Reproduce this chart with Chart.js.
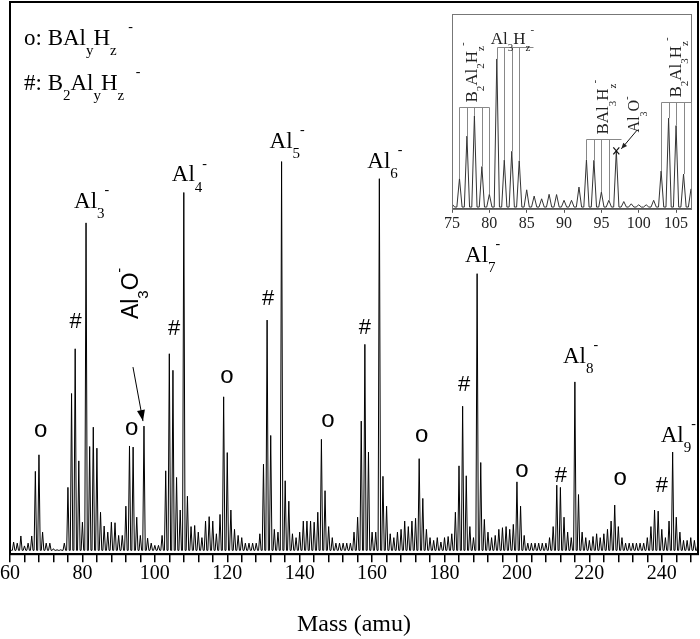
<!DOCTYPE html>
<html><head><meta charset="utf-8">
<script src="https://cdn.jsdelivr.net/npm/chart.js@4.4.1/dist/chart.umd.min.js"></script>
<style>
html,body{margin:0;padding:0;background:#fff;}
#wrap{position:relative;width:700px;height:639px;overflow:hidden;}
#main{position:absolute;left:0;top:0;}
#inset{position:absolute;left:440px;top:4px;}
</style></head><body>
<div id="wrap"><canvas id="main" width="700" height="639"></canvas><canvas id="inset" width="260" height="235"></canvas></div>
<script>
// ---- data ----
const masses = [60,61,62,63,64,65,66,67,68,69,70,71,72,73,74,75,76,77,78,79,80,81,82,83,84,85,86,87,88,89,
90,91,92,93,94,95,96,97,98,99,100,101,102,103,104,105,106,107,108,109,110,111,112,113,114,115,116,117,118,119,
120,121,122,123,124,125,126,127,128,129,130,131,132,133,134,135,136,137,138,139,140,141,142,143,144,145,146,147,148,149,
150,151,152,153,154,155,156,157,158,159,160,161,162,163,164,165,166,167,168,169,170,171,172,173,174,175,176,177,178,179,
180,181,182,183,184,185,186,187,188,189,190,191,192,193,194,195,196,197,198,199,200,201,202,203,204,205,206,207,208,209,
210,211,212,213,214,215,216,217,218,219,220,221,222,223,224,225,226,227,228,229,230,231,232,233,234,235,236,237,238,239,
240,241,242,243,244,245,246,247,248,249,250];
const intensities = [0.8,2.2,2.0,3.3,1.5,2.0,3.3,15.0,18.0,4.0,2.0,2.0,1.0,0.8,0.8,2.0,12.1,29.1,37.2,16.9,5.8,60.0,19.5,23.0,19.2,7.6,5.1,4.0,5.8,5.7,
3.4,3.4,8.7,19.6,19.4,6.7,3.4,23.2,2.9,2.0,1.6,1.6,3.4,15.1,36.3,33.3,13.9,8.0,65.5,10.5,5.0,5.2,4.0,3.0,6.0,6.8,6.0,3.7,7.2,28.5,
18.4,8.0,4.5,3.4,3.0,2.0,2.0,2.0,2.0,3.7,16.3,42.4,21.5,4.5,4.0,71.1,13.3,9.6,3.7,3.0,4.0,6.0,6.0,6.0,5.8,7.6,20.8,11.5,5.0,3.0,
2.0,2.0,2.0,2.0,2.0,4.0,6.7,24.1,38.0,18.5,4.0,4.0,68.0,14.1,8.7,3.7,3.0,4.0,4.5,6.0,5.0,6.0,6.5,17.3,10.1,4.5,3.0,2.5,3.0,2.2,
3.0,3.2,3.7,7.6,16.0,26.8,14.2,5.0,3.0,50.8,16.6,6.3,4.0,3.0,3.4,4.5,4.8,5.0,4.5,5.4,13.1,8.7,3.4,2.0,2.0,2.0,2.0,2.0,2.0,3.0,
5.0,12.5,12.1,6.7,4.0,3.0,31.2,10.8,4.0,3.0,2.5,3.2,3.7,3.0,3.7,4.5,6.0,8.9,5.0,3.0,2.0,2.0,2.0,2.0,2.0,2.0,3.0,5.0,8.0,7.8,
4.5,3.0,6.0,18.5,6.7,4.0,2.5,2.5,3.0,2.5,2.0];
const baseLevel = 0.7;
const majorTicks = [60,80,100,120,140,160,180,200,220,240];
const minorTicks = [64,68,72,76,84,88,92,96,104,108,112,116,124,128,132,136,144,148,152,156,164,168,172,176,184,188,192,196,204,208,212,216,224,228,232,236,244,248];
const insetTicks = [75,80,85,90,95,100,105];

// annotations (mass, height in intensity units)
const peakLabels = [{n:'3',m:81,at:62.7},{n:'4',m:108,at:67.5},{n:'5',m:135,at:73.6},{n:'6',m:162,at:70.0},{n:'7',m:189,at:53.0},{n:'8',m:216,at:34.7},{n:'9',m:243,at:20.3}];
const oMarks = [{m:68.5,at:22.4},{m:93.6,at:22.6},{m:119.9,at:32.1},{m:147.8,at:24.1},{m:173.7,at:21.4},{m:201.4,at:15.1},{m:228.5,at:13.7}];
const hashMarks = [{m:78.1,at:42.4},{m:105.3,at:41.0},{m:131.3,at:46.5},{m:158.0,at:41.3},{m:185.4,at:30.9},{m:212.1,at:14.5},{m:240.0,at:12.7}];

const SERIF = "'Liberation Serif','Times New Roman',serif";
const SANS = "'Liberation Sans',Arial,sans-serif";

function buildSpectrum(){
  const pts=[];
  masses.forEach((m,i)=>{pts.push({x:m-0.35,y:baseLevel},{x:m,y:intensities[i]},{x:m+0.35,y:baseLevel});});
  return pts;
}
const valAt = m => intensities[masses.indexOf(m)];

function richText(ctx,x,y,parts,size,family){
  let cx=x;
  for(const [t,k] of parts){
    let fs=size, dy=0;
    if(k===1){fs=Math.round(size*0.65);dy=size*0.45;}
    else if(k===2){fs=Math.round(size*0.62);dy=-size*0.6;}
    ctx.font=fs+'px '+family;
    ctx.fillText(t,cx,y+dy);
    cx+=ctx.measureText(t).width;
  }
  return cx;
}

const mainDecor = {
  id:'mainDecor',
  afterDraw(chart){
    const ctx=chart.ctx, xs=chart.scales.x, ys=chart.scales.y, a=chart.chartArea;
    ctx.save();
    ctx.strokeStyle='#000'; ctx.lineWidth=2;
    ctx.strokeRect(a.left,a.top,a.right-a.left,a.bottom-a.top);
    ctx.fillStyle='#000'; ctx.textAlign='left'; ctx.textBaseline='alphabetic';
    richText(ctx,a.left+14,a.top+43,[['o: BAl',0],['y',1],['H',0],['z',1],['  ',0],['-',2]],23,SERIF);
    richText(ctx,a.left+14,a.top+88,[['#: B',0],['2',1],['Al',0],['y',1],['H',0],['z',1],['  ',0],['-',2]],23,SERIF);
    peakLabels.forEach(p=>{
      richText(ctx,xs.getPixelForValue(p.m)-12,ys.getPixelForValue(p.at),[['Al',0],[p.n,1],['-',2]],23,SERIF);
    });
    ctx.textAlign='center';
    ctx.font='24px '+SANS;
    oMarks.forEach(o=>ctx.fillText('o',xs.getPixelForValue(o.m),ys.getPixelForValue(o.at)+6));
    ctx.font='22px '+SANS;
    hashMarks.forEach(o=>ctx.fillText('#',xs.getPixelForValue(o.m),ys.getPixelForValue(o.at)+7.5));
    // Al3O- rotated label with arrow to m=97
    const px=xs.getPixelForValue(97), py=ys.getPixelForValue(valAt(97));
    ctx.save();
    ctx.textAlign='left';
    ctx.translate(px-6,py-107);
    ctx.rotate(-Math.PI/2);
    richText(ctx,0,0,[['Al',0],['3',1],['O',0],['-',2]],23,SANS);
    ctx.restore();
    const tx=px-1, ty=py-5, sx=px-11, sy=py-59;
    ctx.strokeStyle='#000'; ctx.lineWidth=1;
    ctx.beginPath(); ctx.moveTo(sx,sy); ctx.lineTo(tx,ty); ctx.stroke();
    const ang=Math.atan2(ty-sy,tx-sx), L=11, W=4;
    ctx.beginPath();
    ctx.moveTo(tx,ty);
    ctx.lineTo(tx-L*Math.cos(ang)+W*Math.sin(ang), ty-L*Math.sin(ang)-W*Math.cos(ang));
    ctx.lineTo(tx-L*Math.cos(ang)-W*Math.sin(ang), ty-L*Math.sin(ang)+W*Math.cos(ang));
    ctx.closePath(); ctx.fill();
    ctx.restore();
  }
};

const insetGroups = [
  {masses:[76,77,78,79,80],level:40.6,end:80,rot:true,lx:78.3,label:[['B',0],['2',1],['Al',0],['2',1],['H',0],['z',1],['-',2]]},
  {masses:[81,82,83,84],level:64.9,end:85.8,rot:false,lx:80.2,label:[['Al',0],['3',1],['H',0],['z',1],['-',2]]},
  {masses:[93,94,95,96],level:27.9,end:97.6,rot:true,lx:95.9,label:[['B',0],['Al',0],['3',1],['H',0],['z',1],['-',2]]},
  {masses:[103,104,105,106,107],level:42.6,end:107,rot:true,lx:105.6,label:[['B',0],['2',1],['Al',0],['3',1],['H',0],['z',1],['-',2]]}
];

const insetDecor = {
  id:'insetDecor',
  afterDraw(chart){
    const ctx=chart.ctx, xs=chart.scales.x, ys=chart.scales.y, a=chart.chartArea;
    const X=m=>Math.round(xs.getPixelForValue(m))+0.5, Y=v=>Math.round(ys.getPixelForValue(v))+0.5;
    ctx.save();
    ctx.strokeStyle='#777'; ctx.lineWidth=1;
    ctx.strokeRect(Math.round(a.left)+0.5,Math.round(a.top)+0.5,Math.round(a.right-a.left),Math.round(a.bottom-a.top));
    ctx.fillStyle='#222'; ctx.textAlign='left'; ctx.textBaseline='alphabetic';
    insetGroups.forEach(g=>{
      const yl=Y(g.level);
      ctx.strokeStyle='#888'; ctx.lineWidth=1;
      ctx.beginPath();
      ctx.moveTo(X(g.masses[0]),yl); ctx.lineTo(X(g.end),yl);
      g.masses.forEach(m=>{ctx.moveTo(X(m),yl); ctx.lineTo(X(m),ys.getPixelForValue(valAt(m)));});
      ctx.stroke();
      if(g.rot){
        ctx.save(); ctx.translate(xs.getPixelForValue(g.lx),yl-5); ctx.rotate(-Math.PI/2);
        richText(ctx,0,0,g.label,17,SERIF); ctx.restore();
      } else {
        richText(ctx,xs.getPixelForValue(g.lx),yl-4,g.label,17,SERIF);
      }
    });
    // Al3O- marker
    const px=xs.getPixelForValue(97), py=ys.getPixelForValue(valAt(97));
    ctx.strokeStyle='#111'; ctx.lineWidth=1.2;
    ctx.beginPath(); ctx.moveTo(px-3,py-3.5); ctx.lineTo(px+3,py+3.5); ctx.moveTo(px+3,py-3.5); ctx.lineTo(px-3,py+3.5); ctx.stroke();
    const tx=px+5, ty=py-2, sx=px+21, sy=py-21;
    ctx.lineWidth=1; ctx.beginPath(); ctx.moveTo(sx,sy); ctx.lineTo(tx,ty); ctx.stroke();
    const ang=Math.atan2(ty-sy,tx-sx), L=6, W=2.5;
    ctx.beginPath(); ctx.moveTo(tx,ty);
    ctx.lineTo(tx-L*Math.cos(ang)+W*Math.sin(ang), ty-L*Math.sin(ang)-W*Math.cos(ang));
    ctx.lineTo(tx-L*Math.cos(ang)-W*Math.sin(ang), ty-L*Math.sin(ang)+W*Math.cos(ang));
    ctx.closePath(); ctx.fill();
    ctx.save(); ctx.translate(xs.getPixelForValue(100.1),ys.getPixelForValue(30.6)); ctx.rotate(-Math.PI/2);
    richText(ctx,0,0,[['Al',0],['3',1],['O',0],['-',2]],16,SERIF); ctx.restore();
    ctx.restore();
  }
};

const spectrum = buildSpectrum();
const mainTickVals = majorTicks.concat(minorTicks).sort((p,q)=>p-q);

new Chart(document.getElementById('main'),{
  type:'line',
  data:{datasets:[{data:spectrum,borderColor:'#000',borderWidth:1,pointRadius:0,tension:0,fill:false}]},
  options:{
    responsive:false, animation:false, devicePixelRatio:1, events:[],
    layout:{padding:{left:10,right:2,top:2,bottom:0}},
    plugins:{legend:{display:false},tooltip:{enabled:false}},
    scales:{
      x:{type:'linear',min:60,max:250,
        afterBuildTicks:s=>{s.ticks=mainTickVals.map(v=>({value:v}));},
        ticks:{autoSkip:false,maxRotation:0,padding:0,color:'#000',font:{family:SERIF,size:20},
          callback:v=>majorTicks.includes(v)?String(v):''},
        grid:{drawOnChartArea:false,drawTicks:true,tickLength:8,color:'#000',lineWidth:1.5},
        border:{display:true,color:'#000',width:2},
        title:{display:true,text:'Mass (amu)',color:'#000',font:{family:SERIF,size:24},padding:{top:24,bottom:0}}},
      y:{display:false,min:0,max:100}
    }
  },
  plugins:[mainDecor]
});

new Chart(document.getElementById('inset'),{
  type:'line',
  data:{datasets:[{data:spectrum,borderColor:'#333',borderWidth:1,pointRadius:0,tension:0,fill:false}]},
  options:{
    responsive:false, animation:false, devicePixelRatio:1, events:[],
    layout:{padding:{left:12,right:9,top:10,bottom:5}},
    plugins:{legend:{display:false},tooltip:{enabled:false}},
    scales:{
      x:{type:'linear',min:75,max:107,
        afterBuildTicks:s=>{s.ticks=insetTicks.map(v=>({value:v}));},
        ticks:{autoSkip:false,maxRotation:0,padding:1,color:'#222',font:{family:SERIF,size:16}},
        grid:{drawOnChartArea:false,drawTicks:true,tickLength:4,color:'#555'},
        border:{display:true,color:'#555',width:1}},
      y:{display:false,min:0,max:78}
    }
  },
  plugins:[insetDecor]
});
</script>
</body></html>
